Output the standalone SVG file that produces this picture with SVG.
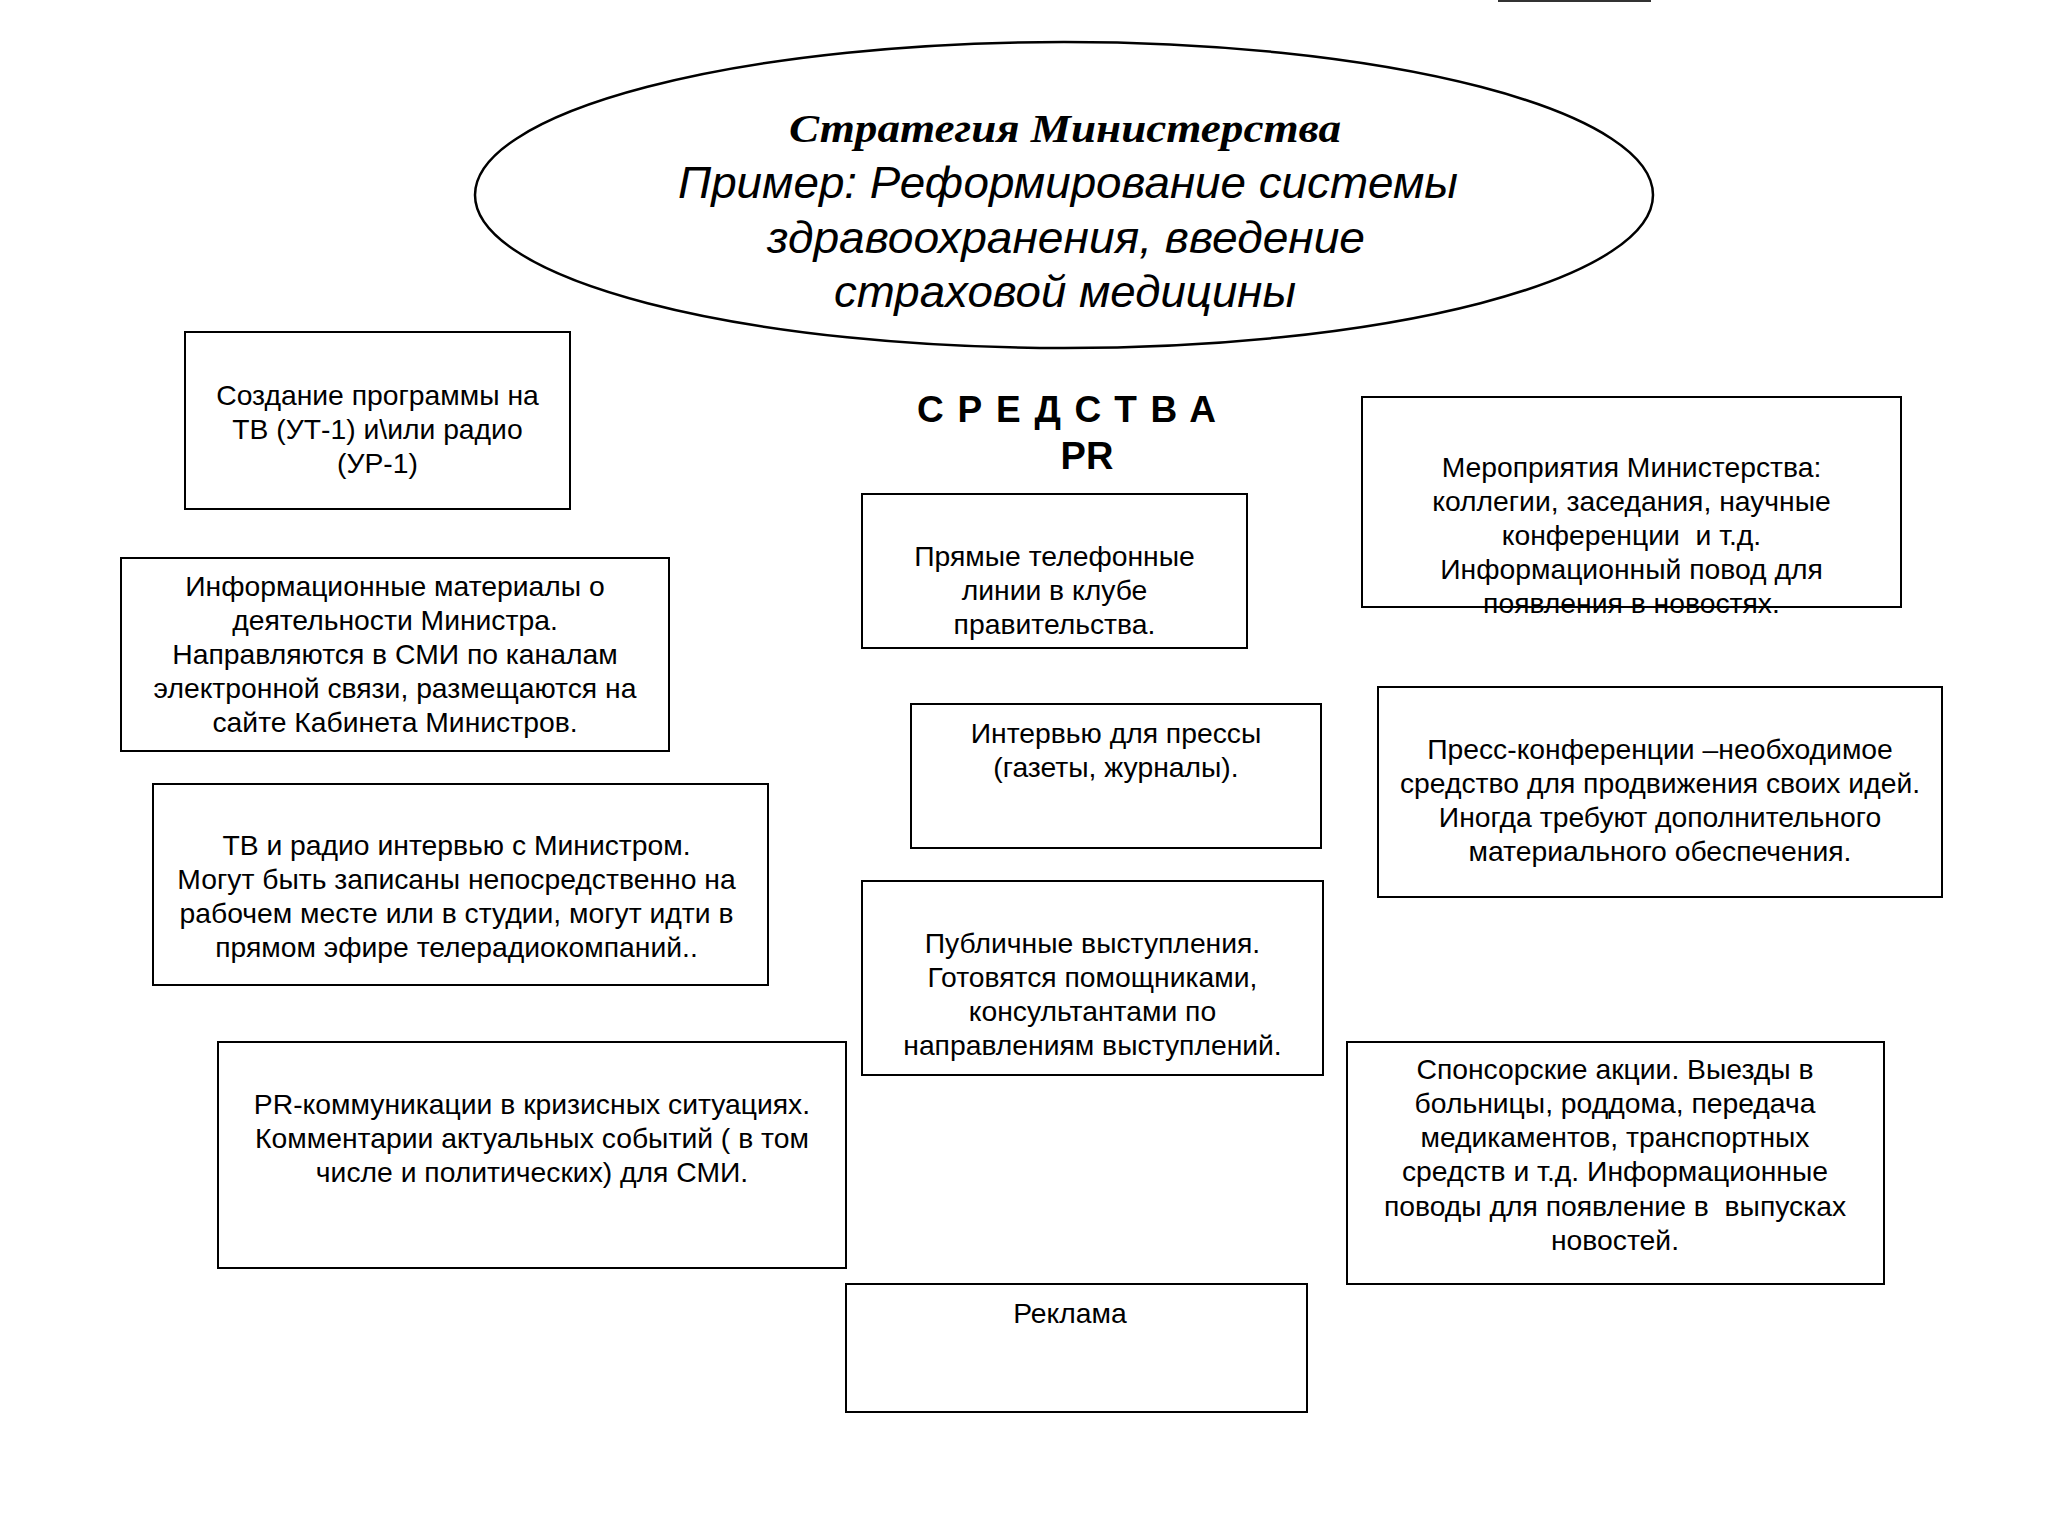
<svg xmlns="http://www.w3.org/2000/svg" width="2048" height="1536" viewBox="0 0 2048 1536">
<style>
.box{fill:#fff;stroke:#000;stroke-width:2}
.t{font-family:"Liberation Sans",Arial,sans-serif;font-size:28.3px;fill:#000;text-anchor:middle}
.h{font-family:"Liberation Sans",Arial,sans-serif;font-weight:bold;fill:#000}
.title{font-family:"Liberation Serif","Times New Roman",serif;font-weight:bold;font-style:italic;font-size:40px;fill:#000;text-anchor:middle}
.ex{font-family:"Liberation Sans",Arial,sans-serif;font-style:italic;font-size:44px;fill:#000;text-anchor:middle}
</style>
<rect width="2048" height="1536" fill="#fff"/>
<rect x="1498" y="0" width="153" height="2" fill="#333"/>
<g id="strategy">
<ellipse cx="1064" cy="195" rx="589" ry="153" fill="#fff" stroke="#000" stroke-width="2.5"/>
<text class="title" x="1065" y="142" textLength="552" lengthAdjust="spacingAndGlyphs">Стратегия Министерства</text>
<text class="ex" x="1068" y="198" textLength="780" lengthAdjust="spacingAndGlyphs">Пример: Реформирование системы</text>
<text class="ex" x="1066" y="253" textLength="598" lengthAdjust="spacingAndGlyphs">здравоохранения, введение</text>
<text class="ex" x="1065" y="307" textLength="462" lengthAdjust="spacingAndGlyphs">страховой медицины</text>
</g>
<g id="heading">
<text class="h" x="917" y="422" font-size="37" textLength="299" lengthAdjust="spacing">СРЕДСТВА</text>
<text class="h" x="1087" y="469" font-size="38" text-anchor="middle">PR</text>
</g>
<g id="connectors"></g>
<g id="tv-program">
<rect class="box" x="185" y="332" width="385" height="177"/>
<text class="t" x="377.5" y="405">Создание программы на</text>
<text class="t" x="377.5" y="439">ТВ (УТ-1) и\или радио</text>
<text class="t" x="377.5" y="473">(УР-1)</text>
</g>
<g id="info-materials">
<rect class="box" x="121" y="558" width="548" height="193"/>
<text class="t" x="395" y="596">Информационные материалы о</text>
<text class="t" x="395" y="630">деятельности Министра.</text>
<text class="t" x="395" y="664">Направляются в СМИ по каналам</text>
<text class="t" x="395" y="698">электронной связи, размещаются на</text>
<text class="t" x="395" y="732">сайте Кабинета Министров.</text>
</g>
<g id="tv-radio-interview">
<rect class="box" x="153" y="784" width="615" height="201"/>
<text class="t" x="456.5" y="855">ТВ и радио интервью с Министром.</text>
<text class="t" x="456.5" y="889">Могут быть записаны непосредственно на</text>
<text class="t" x="456.5" y="923">рабочем месте или в студии, могут идти в</text>
<text class="t" x="456.5" y="957">прямом эфире телерадиокомпаний..</text>
</g>
<g id="crisis">
<rect class="box" x="218" y="1042" width="628" height="226"/>
<text class="t" x="532" y="1114">PR-коммуникации в кризисных ситуациях.</text>
<text class="t" x="532" y="1148">Комментарии актуальных событий ( в том</text>
<text class="t" x="532" y="1182">числе и политических) для СМИ.</text>
</g>
<g id="phone-lines">
<rect class="box" x="862" y="494" width="385" height="154"/>
<text class="t" x="1054.5" y="566">Прямые телефонные</text>
<text class="t" x="1054.5" y="600">линии в клубе</text>
<text class="t" x="1054.5" y="634">правительства.</text>
</g>
<g id="press-interview">
<rect class="box" x="911" y="704" width="410" height="144"/>
<text class="t" x="1116" y="743">Интервью для прессы</text>
<text class="t" x="1116" y="777">(газеты, журналы).</text>
</g>
<g id="public-speeches">
<rect class="box" x="862" y="881" width="461" height="194"/>
<text class="t" x="1092.5" y="953">Публичные выступления.</text>
<text class="t" x="1092.5" y="987">Готовятся помощниками,</text>
<text class="t" x="1092.5" y="1021">консультантами по</text>
<text class="t" x="1092.5" y="1055">направлениям выступлений.</text>
</g>
<g id="advertising">
<rect class="box" x="846" y="1284" width="461" height="128"/>
<text class="t" x="1070" y="1323">Реклама</text>
</g>
<g id="ministry-events">
<rect class="box" x="1362" y="397" width="539" height="210"/>
<text class="t" x="1631.5" y="477">Мероприятия Министерства:</text>
<text class="t" x="1631.5" y="511">коллегии, заседания, научные</text>
<text class="t" x="1631.5" y="545" xml:space="preserve">конференции  и т.д.</text>
<text class="t" x="1631.5" y="579">Информационный повод для</text>
<text class="t" x="1631.5" y="613">появления в новостях.</text>
<line x1="1362" y1="607" x2="1901" y2="607" stroke="#000" stroke-width="2"/>
</g>
<g id="press-conference">
<rect class="box" x="1378" y="687" width="564" height="210"/>
<text class="t" x="1660" y="759">Пресс-конференции –необходимое</text>
<text class="t" x="1660" y="793">средство для продвижения своих идей.</text>
<text class="t" x="1660" y="827">Иногда требуют дополнительного</text>
<text class="t" x="1660" y="861">материального обеспечения.</text>
</g>
<g id="sponsorship">
<rect class="box" x="1347" y="1042" width="537" height="242"/>
<text class="t" x="1615" y="1079">Спонсорские акции. Выезды в</text>
<text class="t" x="1615" y="1113">больницы, роддома, передача</text>
<text class="t" x="1615" y="1147">медикаментов, транспортных</text>
<text class="t" x="1615" y="1181">средств и т.д. Информационные</text>
<text class="t" x="1615" y="1216" xml:space="preserve">поводы для появление в  выпусках</text>
<text class="t" x="1615" y="1250">новостей.</text>
</g>
</svg>
